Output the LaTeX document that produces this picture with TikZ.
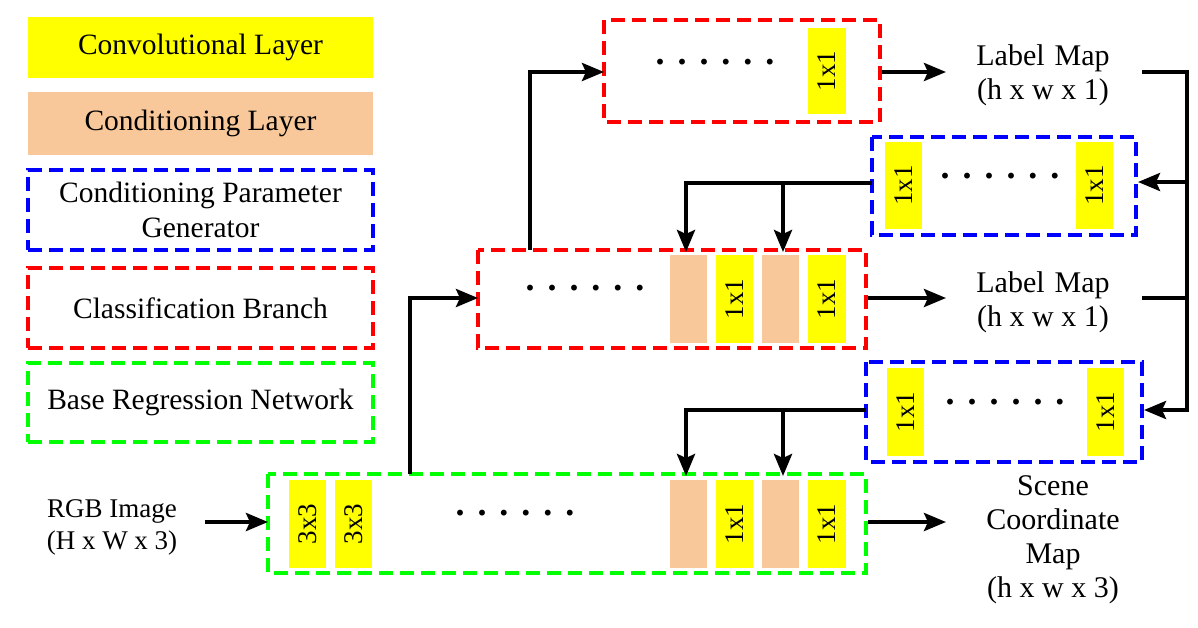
\documentclass[tikz,border=0pt]{standalone}
\usepackage{fontspec}
\setmainfont{Liberation Serif}
\usetikzlibrary{arrows.meta}
\definecolor{yel}{RGB}{255,255,0}
\definecolor{pea}{RGB}{248,200,154}
\definecolor{bl}{RGB}{0,0,255}
\definecolor{rd}{RGB}{255,0,0}
\definecolor{gr}{RGB}{0,255,0}
\newcommand{\dotrow}{.\hspace{13pt}.\hspace{13pt}.\hspace{13pt}.\hspace{13pt}.\hspace{13pt}.}
\begin{document}
\begin{tikzpicture}[x=1pt,y=-1pt,
  txt/.style={font=\fontsize{29.5}{35}\selectfont, align=center},
  sm/.style={font=\fontsize{30}{34}\selectfont, align=center},
  rt/.style={font=\fontsize{27}{30}\selectfont, rotate=90},
  dt/.style={font=\bfseries\fontsize{36}{40}\selectfont},
  box/.style={draw, line width=4pt, dash pattern=on 14pt off 7pt},
  yl/.style={fill=yel, draw=none},
  pc/.style={fill=pea, draw=none},
  arr/.style={line width=4pt, -{Stealth[length=22pt,width=18pt,inset=4pt]}},
  ln/.style={line width=4pt}]
\useasboundingbox (0,0) rectangle (1198,627);
% legend
\node[yl, txt, minimum width=345pt, minimum height=61pt] (lc) at (200.5,47.5) {Convolutional Layer};
\node[pc, txt, minimum width=345pt, minimum height=63pt] (lp) at (200.5,123.5) {Conditioning Layer};
\node[box, draw=bl, txt, minimum width=345pt, minimum height=80pt] (lb) at (200.5,210) {Conditioning Parameter\\Generator};
\node[box, draw=rd, txt, minimum width=345pt, minimum height=80pt] (lr) at (200.5,308) {Classification Branch};
\node[box, draw=gr, txt, minimum width=345pt, minimum height=79pt] (lg) at (200.5,402.5) {Base Regression Network};
% boxes
\draw[box, draw=rd] (604,20) rectangle (880,122);
\draw[box, draw=bl] (872,137) rectangle (1136,235);
\draw[box, draw=rd] (478,250) rectangle (866,348);
\draw[box, draw=bl] (866,362) rectangle (1142,462);
\draw[box, draw=gr] (268,474) rectangle (866,573);
% top red
\node[dt] (d1) at (715,62) {\dotrow};
\fill[yel] (808,28) rectangle (846,114);
\node[rt] (t1) at (827,71) {1x1};
% blue1
\fill[yel] (885,142) rectangle (922,229); \node[rt] at (903.5,185.5) {1x1};
\fill[yel] (1076,142) rectangle (1113,229); \node[rt] at (1094.5,185.5) {1x1};
\node[dt] (d2) at (1000,176) {\dotrow};
% middle red
\node[dt] (d3) at (585,288) {\dotrow};
\fill[pea] (670,255) rectangle (707,343);
\fill[yel] (716,255) rectangle (753,343); \node[rt] at (734.5,299) {1x1};
\fill[pea] (762,255) rectangle (799,343);
\fill[yel] (808,255) rectangle (846,343); \node[rt] at (827,299) {1x1};
% blue2
\fill[yel] (887,368) rectangle (924,456); \node[rt] at (905.5,412) {1x1};
\fill[yel] (1087,368) rectangle (1124,456); \node[rt] at (1105.5,412) {1x1};
\node[dt] (d4) at (1005,402) {\dotrow};
% green
\fill[yel] (289,480) rectangle (326,568); \node[rt] at (307.5,524) {3x3};
\fill[yel] (335,480) rectangle (372,568); \node[rt] at (353.5,524) {3x3};
\node[dt] (d5) at (515,513) {\dotrow};
\fill[pea] (670,480) rectangle (707,568);
\fill[yel] (716,480) rectangle (753,568); \node[rt] at (734.5,524) {1x1};
\fill[pea] (762,480) rectangle (799,568);
\fill[yel] (808,480) rectangle (846,568); \node[rt] at (827,524) {1x1};
% labels
\node[sm, font=\fontsize{27}{32}\selectfont] (rgb) at (112,527) {RGB Image\\(H x W x 3)};
\node[sm] (lm1) at (1043,75) {Label\,\,Map\\(h x w x 1)};
\node[sm] (lm2) at (1043,302) {Label\,\,Map\\(h x w x 1)};
\node[sm] (scm) at (1053,540) {Scene\\Coordinate\\Map\\(h x w x 3)};
% coordinates
\coordinate (a1) at (205,522); \coordinate (a2) at (268,522);
\coordinate (b1) at (868,522); \coordinate (b2) at (946,522);
\coordinate (c1) at (882,72); \coordinate (c2) at (946,72);
\coordinate (e1) at (868,298); \coordinate (e2) at (946,298);
\draw[arr] (a1) -- (a2);
\draw[arr] (b1) -- (b2);
\draw[arr] (c1) -- (c2);
\draw[arr] (e1) -- (e2);
\coordinate (g1) at (410,474); \coordinate (g2) at (478,298);
\draw[arr] (g1) |- (g2);
\coordinate (r1) at (530,250); \coordinate (r2) at (604,72);
\draw[arr] (r1) |- (r2);
% right bracket
\coordinate (k1) at (1142,72); \coordinate (k2) at (1187,410);
\coordinate (k3) at (1142,298); \coordinate (k4) at (1187,298);
\draw[ln] (k1) -| (k2);
\draw[ln] (k3) -- (k4);
\coordinate (m1) at (1189,182); \coordinate (m2) at (1138,182);
\draw[arr] (m1) -- (m2);
\coordinate (n1) at (1189,410); \coordinate (n2) at (1144,410);
\draw[arr] (n1) -- (n2);
% blue1 down
\coordinate (p1) at (872,183); \coordinate (p2) at (686,252); \coordinate (p3) at (783,183); \coordinate (p4) at (783,252);
\draw[ln] (p1) -- (684,183);
\draw[arr] (686,181) -- (p2);
\draw[arr] (p3) -- (p4);
\coordinate (q1) at (866,410); \coordinate (q2) at (686,476); \coordinate (q3) at (783,410); \coordinate (q4) at (783,476);
\draw[ln] (q1) -- (684,410);
\draw[arr] (686,408) -- (q2);
\draw[arr] (q3) -- (q4);
\end{tikzpicture}
\end{document}
